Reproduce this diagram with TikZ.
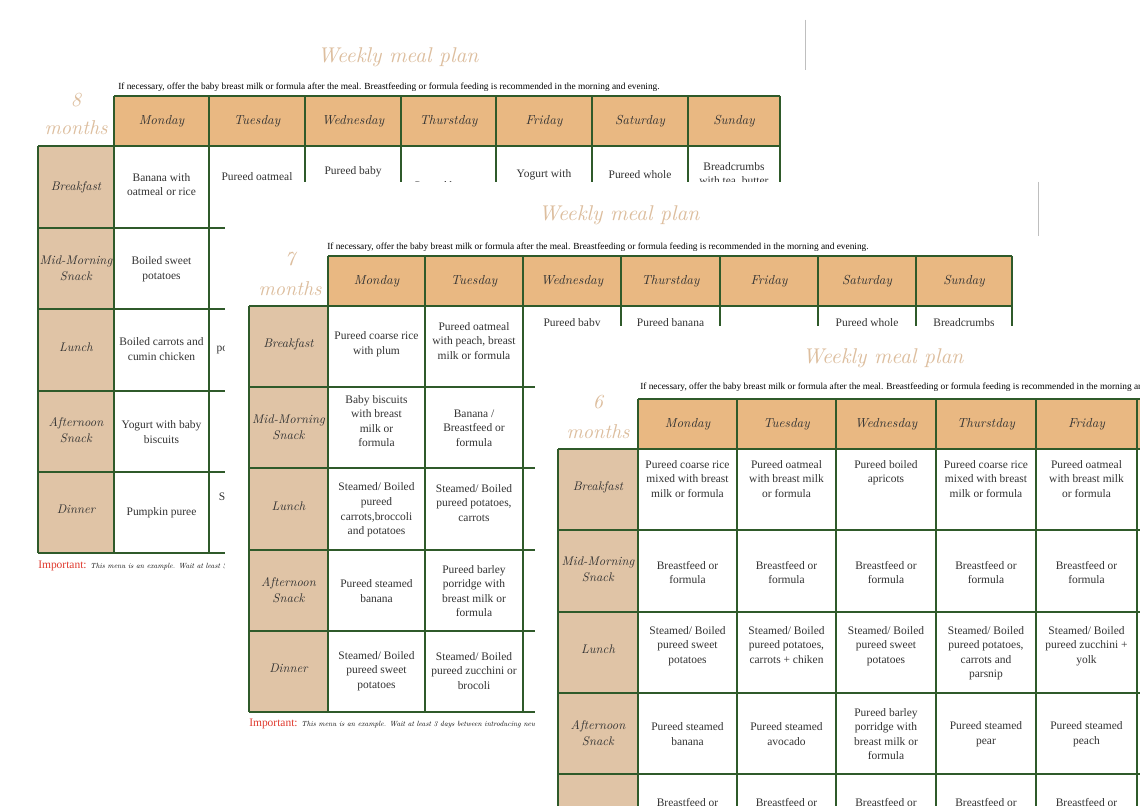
\documentclass[tikz,border=0pt]{standalone}
\usepackage{fontspec}
\setmainfont{Liberation Serif}
\newfontfamily\hd{lmroman10}[Extension=.otf,UprightFont=*-regular,ItalicFont=*-italic]
\definecolor{hdr}{HTML}{E9B882}
\definecolor{lab}{HTML}{E0C4A6}
\definecolor{grid}{HTML}{2F5A2A}
\definecolor{tan}{HTML}{DDBE9E}
\definecolor{ink}{HTML}{333333}
\definecolor{imp}{HTML}{E03A2E}
\tikzset{
 gl/.style={draw=grid,line width=0.8pt},
 cellt/.style={align=center,font=\fontsize{8.6}{10.9}\selectfont,text=ink,inner sep=0pt},
 dayt/.style={font=\hd\itshape\fontsize{9.8}{11}\selectfont,text=ink,inner sep=0pt},
 labt/.style={align=center,font=\hd\itshape\fontsize{9.4}{12}\selectfont,text=ink,inner sep=0pt},
 titlet/.style={font=\hd\itshape\fontsize{16}{18}\selectfont,text=tan,inner sep=0pt},
 montht/.style={font=\hd\itshape\fontsize{15}{17}\selectfont,text=tan,inner sep=0pt},
 notet/.style={anchor=west,font=\fontsize{7}{8}\selectfont,text=black,inner sep=0pt},
 impt/.style={anchor=west,font=\fontsize{8.6}{10}\selectfont,text=imp,inner sep=0pt},
 page/.style={fill=white,draw=none},
}
\begin{document}
\begin{tikzpicture}[x=0.75pt,y=-0.75pt]
\useasboundingbox (0,0) rectangle (1140,806);
\clip (0,0) rectangle (1140,806);
\fill[white] (0,0) rectangle (1140,806);
%%%% Sheet 8
\draw[black!25,line width=0.6pt] (805,20) -- (805,70);
\node[titlet] (t8) at (398,57) {Weekly meal plan};
\node[notet] (n8) at (118,87) {If necessary, offer the baby breast milk or formula after the meal. Breastfeeding or formula feeding is recommended in the morning and evening.};
\fill[hdr] (114,96) rectangle (780,146);
\fill[lab] (38,146) rectangle (114,553);
\draw[gl] (114,96) -- (780,96);
\foreach \y in {146,228,309,391,472,553} \draw[gl] (38,\y) -- (780,\y);
\foreach \x in {114,209,305,401,496,592,688,780} \draw[gl] (\x,96) -- (\x,553);
\draw[gl] (38,146) -- (38,553);
\node[montht] (m8a) at (76,100) {8};
\node[montht] (m8b) at (76,128) {months};
\foreach \x/\d [count=\i] in {161.5/Monday,257/Tuesday,353/Wednesday,448.5/Thurstday,544/Friday,640/Saturday,734/Sunday}
  \node[dayt] (d8\i) at (\x,121) {\d};
\foreach \y/\t [count=\i] in {187/Breakfast,268/{Mid-Morning\\Snack},347/Lunch,430/{Afternoon\\Snack},509/Dinner}
  \node[labt] (l8\i) at (76,\y) {\t};
\node[cellt] (c8a) at (161.5,184.5) {Banana with\\oatmeal or rice};
\node[cellt] (c8b) at (161.5,269) {Boiled sweet\\potatoes};
\node[cellt] (c8c) at (161.5,349) {Boiled carrots and\\cumin chicken};
\node[cellt] (c8d) at (161.5,432) {Yogurt with baby\\biscuits};
\node[cellt] (c8e) at (161.5,513) {Pumpkin puree};
\node[cellt] (c8f) at (257,349) {potatoes and peas};
\node[cellt] (c8g) at (257,505) {Steamed/ Boiled\\pureed peas};
\node[cellt] (c8h) at (257,177) {Pureed oatmeal};
\node[cellt] (c8i) at (353,172) {Pureed baby};
\node[cellt] (c8j) at (448.5,186) {Pureed banana};
\node[cellt] (c8k) at (544,175) {Yogurt with};
\node[cellt] (c8l) at (640,175) {Pureed whole};
\node[cellt] (c8m) at (734,174.5) {Breadcrumbs\\with tea, butter};
\node[impt] (i8) at (38,566) {Important: {\hd\itshape\fontsize{5.6}{6}\selectfont\color{black} This menu is an example. Wait at least 3 days between introducing new foods.}};
%%%% Sheet 7
\fill[page] (225,182) rectangle (1040,745);
\draw[black!25,line width=0.6pt] (1038,182) -- (1038,236);
\node[titlet] (t7) at (619,215) {Weekly meal plan};
\node[notet] (n7) at (327,247) {If necessary, offer the baby breast milk or formula after the meal. Breastfeeding or formula feeding is recommended in the morning and evening.};
\fill[hdr] (328,256) rectangle (1012,306);
\fill[lab] (249,306) rectangle (328,712);
\draw[gl] (328,256) -- (1012,256);
\foreach \y in {306,387,468,550,631,712} \draw[gl] (249,\y) -- (1012,\y);
\foreach \x in {328,425,523,621,720,818,916,1012} \draw[gl] (\x,256) -- (\x,712);
\draw[gl] (249,306) -- (249,712);
\node[montht] (m7a) at (290,259) {7};
\node[montht] (m7b) at (290,289) {months};
\foreach \x/\d [count=\i] in {376.5/Monday,474/Tuesday,572/Wednesday,670.5/Thurstday,769/Friday,867/Saturday,964/Sunday}
  \node[dayt] (d7\i) at (\x,281) {\d};
\foreach \y/\t [count=\i] in {344/Breakfast,427/{Mid-Morning\\Snack},506/Lunch,590/{Afternoon\\Snack},668/Dinner}
  \node[labt] (l7\i) at (288.5,\y) {\t};
\foreach \y/\t [count=\i] in {344/{Pureed coarse rice\\with plum},421/{Baby biscuits\\with breast\\milk or\\formula},510/{Steamed/ Boiled\\pureed\\carrots,broccoli\\and potatoes},591/{Pureed steamed\\banana},671/{Steamed/ Boiled\\pureed sweet\\potatoes}}
  \node[cellt] (c7m\i) at (376.5,\y) {\t};
\foreach \y/\t [count=\i] in {341/{Pureed oatmeal\\with peach, breast\\milk or formula},428/{Banana /\\Breastfeed or\\formula},503/{Steamed/ Boiled\\pureed potatoes,\\carrots},591/{Pureed barley\\porridge with\\breast milk or\\formula},671/{Steamed/ Boiled\\pureed zucchini or\\brocoli}}
  \node[cellt] (c7t\i) at (474,\y) {\t};
\foreach \x/\t [count=\i] in {572/Pureed baby,670.5/Pureed banana,867/Pureed whole,964/Breadcrumbs}
  \node[cellt,anchor=north] (c7w\i) at (\x,318) {\t};
\node[impt] (i7) at (249,724) {Important: {\hd\itshape\fontsize{5.6}{6}\selectfont\color{black} This menu is an example. Wait at least 3 days between introducing new foods.}};
%%%% Sheet 6
\fill[page] (535,326) rectangle (1140,806);
\node[titlet] (t6) at (883,358) {Weekly meal plan};
\node[notet] (n6) at (640,387) {If necessary, offer the baby breast milk or formula after the meal. Breastfeeding or formula feeding is recommended in the morning and evening.};
\fill[hdr] (638,399) rectangle (1140,449);
\fill[lab] (558,449) rectangle (638,806);
\draw[gl] (638,399) -- (1140,399);
\foreach \y in {449,530,612,693,774} \draw[gl] (558,\y) -- (1140,\y);
\foreach \x in {638,737,836,936,1036,1137} \draw[gl] (\x,399) -- (\x,806);
\draw[gl] (558,449) -- (558,806);
\node[montht] (m6a) at (598,402) {6};
\node[montht] (m6b) at (598,432) {months};
\foreach \x/\d [count=\i] in {687.5/Monday,786.5/Tuesday,886/Wednesday,986/Thurstday,1086.5/Friday}
  \node[dayt] (d6\i) at (\x,424) {\d};
\foreach \y/\t [count=\i] in {487/Breakfast,569/{Mid-Morning\\Snack},649/Lunch,733/{Afternoon\\Snack}}
  \node[labt] (l6\i) at (598,\y) {\t};
\foreach \x/\a/\b/\c/\d [count=\i] in {
 687.5/{Pureed coarse rice\\mixed with breast\\milk or formula}/{Steamed/ Boiled\\pureed sweet\\potatoes}/{Pureed steamed\\banana}/{Breastfeed or},
 786.5/{Pureed oatmeal\\with breast milk\\or formula}/{Steamed/ Boiled\\pureed potatoes,\\carrots + chiken}/{Pureed steamed\\avocado}/{Breastfeed or},
 886/{Pureed boiled\\apricots}/{Steamed/ Boiled\\pureed sweet\\potatoes}/{Pureed barley\\porridge with\\breast milk or\\formula}/{Breastfeed or},
 986/{Pureed coarse rice\\mixed with breast\\milk or formula}/{Steamed/ Boiled\\pureed potatoes,\\carrots and\\parsnip}/{Pureed steamed\\pear}/{Breastfeed or},
 1086.5/{Pureed oatmeal\\with breast milk\\or formula}/{Steamed/ Boiled\\pureed zucchini +\\yolk}/{Pureed steamed\\peach}/{Breastfeed or}}
 {
  \node[cellt,anchor=north] (c6b\i) at (\x,460) {\a};
  \node[cellt] (c6m\i) at (\x,572.5) {Breastfeed or\\formula};
  \node[cellt,anchor=north] (c6l\i) at (\x,626) {\b};
  \node[cellt] (c6a\i) at (\x,734) {\c};
  \node[cellt,anchor=north] (c6d\i) at (\x,798) {\d};
 }
\end{tikzpicture}
\end{document}
